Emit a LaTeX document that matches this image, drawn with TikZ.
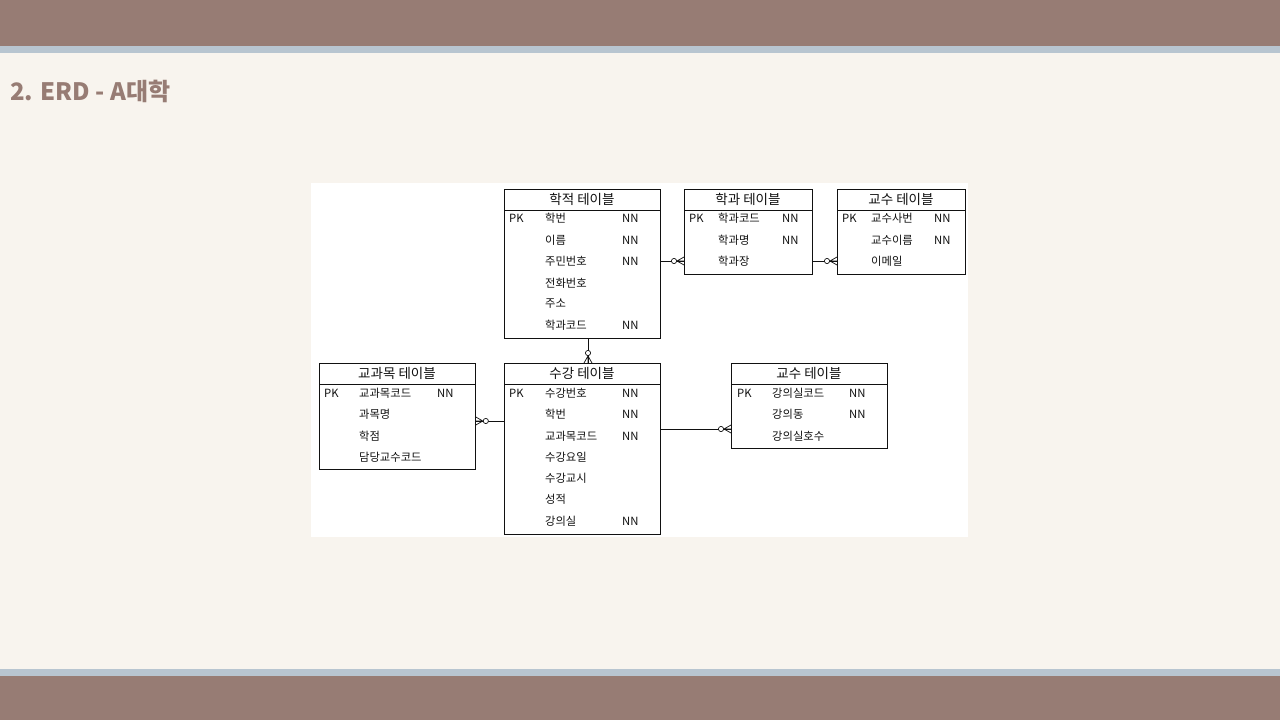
\documentclass[tikz,border=0pt]{standalone}
\usepackage{fontspec}
\setmainfont{Noto Sans CJK KR}
\definecolor{bgc}{HTML}{F8F4EE}
\definecolor{brn}{HTML}{977C74}
\definecolor{blu}{HTML}{B8C5D0}
\definecolor{ink}{HTML}{111111}
\tikzset{
  tbl/.style={draw=ink, line width=0.8pt, anchor=north west, inner sep=0pt, fill=white},
  hdr/.style={font=\fontsize{13.5}{14}\selectfont, text=ink, inner sep=0pt, anchor=center},
  cell/.style={font=\fontsize{11.3}{12}\selectfont, text=ink, inner sep=0pt, anchor=west},
  conn/.style={draw=ink, line width=0.7pt},
  sep/.style={draw=ink, line width=0.8pt},
  zeromany/.pic={
    \draw[ink, line width=0.7pt] (-7,0) -- (0,4) (-7,0) -- (0,0) (-7,0) -- (0,-4);
    \draw[ink, line width=0.7pt, fill=white] (-10,0) circle (2.6pt);
  }
}
\begin{document}
\begin{tikzpicture}[x=1pt,y=-1pt]
\useasboundingbox (0,0) rectangle (1280,720);
\fill[bgc] (0,0) rectangle (1280,720);
\fill[brn] (0,0) rectangle (1280,46);
\fill[blu] (0,46) rectangle (1280,53);
\fill[blu] (0,669) rectangle (1280,676);
\fill[brn] (0,676) rectangle (1280,720);
\node[anchor=base west, inner sep=0pt, text=brn, font=\fontsize{24}{26}\bfseries\selectfont] (title) at (10,100) {2. ERD - A대학};
\fill[white] (311,183) rectangle (968,537);

% tables
\node[tbl, minimum width=156pt, minimum height=149pt] (hakjeok) at (504,189) {};
\node[tbl, minimum width=128pt, minimum height=85pt] (hakgwa) at (684,189) {};
\node[tbl, minimum width=128pt, minimum height=85pt] (gyosu) at (837,189) {};
\node[tbl, minimum width=156pt, minimum height=106pt] (gwamok) at (319,363) {};
\node[tbl, minimum width=156pt, minimum height=171pt] (sugang) at (504,363) {};
\node[tbl, minimum width=156pt, minimum height=85pt] (gangui) at (731,363) {};

\draw[sep] (504,210) -- (660,210);
\draw[sep] (684,210) -- (812,210);
\draw[sep] (837,210) -- (965,210);
\draw[sep] (319,384) -- (475,384);
\draw[sep] (504,384) -- (660,384);
\draw[sep] (731,384) -- (887,384);

% headers
\node[hdr] (h1) at (582,199.5) {학적 테이블};
\node[hdr] (h2) at (748,199.5) {학과 테이블};
\node[hdr] (h3) at (901,199.5) {교수 테이블};
\node[hdr] (h4) at (397,373.5) {교과목 테이블};
\node[hdr] (h5) at (582,373.5) {수강 테이블};
\node[hdr] (h6) at (809,373.5) {교수 테이블};

% 학적
\node[cell] (a0) at (509,218.5) {PK};
\node[cell] (a1) at (545,218.5) {학번};      \node[cell] (a1n) at (622,218.5) {NN};
\node[cell] (a2) at (545,240) {이름};      \node[cell] (a2n) at (622,240) {NN};
\node[cell] (a3) at (545,261.5) {주민번호};  \node[cell] (a3n) at (622,261.5) {NN};
\node[cell] (a4) at (545,283) {전화번호};
\node[cell] (a5) at (545,304) {주소};
\node[cell] (a6) at (545,325.5) {학과코드};  \node[cell] (a6n) at (622,325.5) {NN};
% 학과
\node[cell] (b0) at (689,218.5) {PK};
\node[cell] (b1) at (718,218.5) {학과코드};  \node[cell] (b1n) at (782,218.5) {NN};
\node[cell] (b2) at (718,240) {학과명};    \node[cell] (b2n) at (782,240) {NN};
\node[cell] (b3) at (718,261.5) {학과장};
% 교수
\node[cell] (c0) at (842,218.5) {PK};
\node[cell] (c1) at (871,218.5) {교수사번};  \node[cell] (c1n) at (934,218.5) {NN};
\node[cell] (c2) at (871,240) {교수이름};  \node[cell] (c2n) at (934,240) {NN};
\node[cell] (c3) at (871,261.5) {이메일};
% 교과목
\node[cell] (d0) at (324,393.5) {PK};
\node[cell] (d1) at (359,393.5) {교과목코드}; \node[cell] (d1n) at (437,393.5) {NN};
\node[cell] (d2) at (359,414.5) {과목명};
\node[cell] (d3) at (359,436) {학점};
\node[cell] (d4) at (359,457) {담당교수코드};
% 수강
\node[cell] (e0) at (509,393.5) {PK};
\node[cell] (e1) at (545,393.5) {수강번호};   \node[cell] (e1n) at (622,393.5) {NN};
\node[cell] (e2) at (545,414.5) {학번};       \node[cell] (e2n) at (622,414.5) {NN};
\node[cell] (e3) at (545,436) {교과목코드}; \node[cell] (e3n) at (622,436) {NN};
\node[cell] (e4) at (545,457) {수강요일};
\node[cell] (e5) at (545,478.5) {수강교시};
\node[cell] (e6) at (545,499.5) {성적};
\node[cell] (e7) at (545,521) {강의실};     \node[cell] (e7n) at (622,521) {NN};
% 강의실
\node[cell] (f0) at (737,393.5) {PK};
\node[cell] (f1) at (772,393.5) {강의실코드}; \node[cell] (f1n) at (849,393.5) {NN};
\node[cell] (f2) at (772,414.5) {강의동};     \node[cell] (f2n) at (849,414.5) {NN};
\node[cell] (f3) at (772,436) {강의실호수};

% connectors
\coordinate (p1) at (hakgwa.west |- 0,261);
\draw[conn] (hakjeok.east |- 0,261) -- (p1);
\pic at (p1) {zeromany};
\coordinate (p2) at (gyosu.west |- 0,261);
\draw[conn] (hakgwa.east |- 0,261) -- (p2);
\pic at (p2) {zeromany};
\coordinate (p3) at (sugang.north -| 588,0);
\draw[conn] (hakjeok.south -| 588,0) -- (p3);
\pic[rotate=-90] at (p3) {zeromany};
\coordinate (p4) at (gwamok.east |- 0,421);
\draw[conn] (sugang.west |- 0,421) -- (p4);
\pic[rotate=180] at (p4) {zeromany};
\coordinate (p5) at (gangui.west |- 0,429);
\draw[conn] (sugang.east |- 0,429) -- (p5);
\pic at (p5) {zeromany};
\end{tikzpicture}
\end{document}
